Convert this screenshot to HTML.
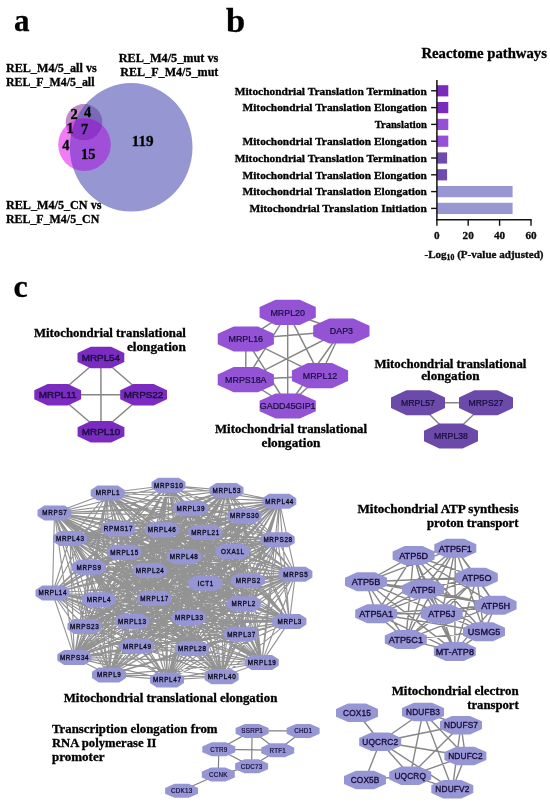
<!DOCTYPE html>
<html><head><meta charset="utf-8"><title>Figure</title>
<style>html,body{margin:0;padding:0;background:#fff}svg{display:block}</style>
</head><body>
<svg width="550" height="806" viewBox="0 0 550 806">
<rect width="550" height="806" fill="#ffffff"/>
<g font-family="'Liberation Serif', serif" font-weight="bold" stroke="#000" stroke-width="0.3" fill="#000">
<text x="14" y="31" font-size="31" text-anchor="start" >a</text>
<text x="226" y="31.5" font-size="33" text-anchor="start" textLength="19.2" lengthAdjust="spacingAndGlyphs" >b</text>
<text x="13.5" y="297.1" font-size="32" text-anchor="start" >c</text>
</g>
<defs>
<clipPath id="cb"><ellipse cx="131.2" cy="147.3" rx="61.3" ry="64.25"/></clipPath>
<clipPath id="cp"><circle cx="84.5" cy="144.6" r="26.3"/></clipPath>
</defs>
<circle cx="84.5" cy="144.6" r="26.3" fill="#F07CF6"/>
<ellipse cx="131.2" cy="147.3" rx="61.3" ry="64.25" fill="#9696D2"/>
<circle cx="84.5" cy="144.6" r="26.3" fill="#A050D8" clip-path="url(#cb)"/>
<circle cx="84" cy="122.3" r="18.3" fill="#C08AC8"/>
<circle cx="84" cy="122.3" r="18.3" fill="#7A68B8" clip-path="url(#cb)"/>
<circle cx="84" cy="122.3" r="18.3" fill="#CC50D8" clip-path="url(#cp)"/>
<g clip-path="url(#cb)"><circle cx="84" cy="122.3" r="18.3" fill="#8C35C8" clip-path="url(#cp)"/></g>
<g font-family="'Liberation Serif', serif" font-weight="bold" stroke="#000" stroke-width="0.3" fill="#000">
<text x="5.9" y="72" font-size="11.6" text-anchor="start" textLength="90.8" lengthAdjust="spacingAndGlyphs" >REL_M4/5_all vs</text>
<text x="5.9" y="85.8" font-size="11.6" text-anchor="start" textLength="88.6" lengthAdjust="spacingAndGlyphs" >REL_F_M4/5_all</text>
<text x="118.7" y="61.8" font-size="11.6" text-anchor="start" textLength="99.7" lengthAdjust="spacingAndGlyphs" >REL_M4/5_mut vs</text>
<text x="120.3" y="76.2" font-size="11.6" text-anchor="start" textLength="98.1" lengthAdjust="spacingAndGlyphs" >REL_F_M4/5_mut</text>
<text x="5.9" y="209.2" font-size="11.6" text-anchor="start" textLength="95.6" lengthAdjust="spacingAndGlyphs" >REL_M4/5_CN vs</text>
<text x="5.9" y="223.2" font-size="11.6" text-anchor="start" textLength="93.4" lengthAdjust="spacingAndGlyphs" >REL_F_M4/5_CN</text>
<text x="74.2" y="118.8" font-size="13.6" text-anchor="middle" textLength="7.2" lengthAdjust="spacingAndGlyphs" stroke="#111" stroke-width="0.35">2</text>
<text x="87.5" y="116.9" font-size="13.6" text-anchor="middle" textLength="7.2" lengthAdjust="spacingAndGlyphs" stroke="#111" stroke-width="0.35">4</text>
<text x="70.1" y="132.7" font-size="13.6" text-anchor="middle" textLength="7.2" lengthAdjust="spacingAndGlyphs" stroke="#111" stroke-width="0.35">1</text>
<text x="84.6" y="134" font-size="13.6" text-anchor="middle" textLength="7.2" lengthAdjust="spacingAndGlyphs" stroke="#111" stroke-width="0.35">7</text>
<text x="65.9" y="150.3" font-size="13.6" text-anchor="middle" textLength="7.2" lengthAdjust="spacingAndGlyphs" stroke="#111" stroke-width="0.35">4</text>
<text x="88.2" y="158.5" font-size="13.6" text-anchor="middle" textLength="14.4" lengthAdjust="spacingAndGlyphs" stroke="#111" stroke-width="0.35">15</text>
<text x="142.6" y="145.8" font-size="13.6" text-anchor="middle" textLength="21.8" lengthAdjust="spacingAndGlyphs" stroke="#111" stroke-width="0.35">119</text>
</g>
<g font-family="'Liberation Serif', serif" font-weight="bold" stroke="#000" stroke-width="0.3" fill="#000">
<text x="484.2" y="57.5" font-size="13.9" text-anchor="middle" textLength="125.5" lengthAdjust="spacingAndGlyphs" >Reactome pathways</text>
<text x="426.9" y="94.6" font-size="10.9" text-anchor="end" textLength="192.2" lengthAdjust="spacingAndGlyphs">Mitochondrial Translation Termination</text>
<text x="426.9" y="111.4" font-size="10.9" text-anchor="end" textLength="184.4" lengthAdjust="spacingAndGlyphs">Mitochondrial Translation Elongation</text>
<text x="426.9" y="128.2" font-size="10.9" text-anchor="end" textLength="52.2" lengthAdjust="spacingAndGlyphs">Translation</text>
<text x="426.9" y="145.0" font-size="10.9" text-anchor="end" textLength="184.4" lengthAdjust="spacingAndGlyphs">Mitochondrial Translation Elongation</text>
<text x="426.9" y="161.8" font-size="10.9" text-anchor="end" textLength="192.2" lengthAdjust="spacingAndGlyphs">Mitochondrial Translation Termination</text>
<text x="426.9" y="178.6" font-size="10.9" text-anchor="end" textLength="184.4" lengthAdjust="spacingAndGlyphs">Mitochondrial Translation Elongation</text>
<text x="426.9" y="195.4" font-size="10.9" text-anchor="end" textLength="184.4" lengthAdjust="spacingAndGlyphs">Mitochondrial Translation Elongation</text>
<text x="426.9" y="212.2" font-size="10.9" text-anchor="end" textLength="177.5" lengthAdjust="spacingAndGlyphs">Mitochondrial Translation Initiation</text>
</g>
<rect x="436.9" y="85.2" width="11.4" height="11.2" fill="#7A2BBE"/>
<line x1="431.1" y1="90.8" x2="436.9" y2="90.8" stroke="#111" stroke-width="1.4"/>
<rect x="436.9" y="102.0" width="11.4" height="11.2" fill="#7A2BBE"/>
<line x1="431.1" y1="107.6" x2="436.9" y2="107.6" stroke="#111" stroke-width="1.4"/>
<rect x="436.9" y="118.8" width="11.4" height="11.2" fill="#9650D7"/>
<line x1="431.1" y1="124.4" x2="436.9" y2="124.4" stroke="#111" stroke-width="1.4"/>
<rect x="436.9" y="135.6" width="11.4" height="11.2" fill="#9650D7"/>
<line x1="431.1" y1="141.2" x2="436.9" y2="141.2" stroke="#111" stroke-width="1.4"/>
<rect x="436.9" y="152.4" width="10.2" height="11.2" fill="#704BAF"/>
<line x1="431.1" y1="158.0" x2="436.9" y2="158.0" stroke="#111" stroke-width="1.4"/>
<rect x="436.9" y="169.2" width="10.2" height="11.2" fill="#704BAF"/>
<line x1="431.1" y1="174.8" x2="436.9" y2="174.8" stroke="#111" stroke-width="1.4"/>
<rect x="436.9" y="186.0" width="75.7" height="11.2" fill="#9897D3"/>
<line x1="431.1" y1="191.6" x2="436.9" y2="191.6" stroke="#111" stroke-width="1.4"/>
<rect x="436.9" y="202.8" width="75.7" height="11.2" fill="#9897D3"/>
<line x1="431.1" y1="208.4" x2="436.9" y2="208.4" stroke="#111" stroke-width="1.4"/>
<line x1="436.9" y1="80" x2="436.9" y2="220.4" stroke="#111" stroke-width="1.5"/>
<line x1="436.15" y1="219.8" x2="531.7" y2="219.7" stroke="#111" stroke-width="1.5"/>
<g font-family="'Liberation Serif', serif" font-weight="bold" stroke="#000" stroke-width="0.3" fill="#111" font-size="11.2" text-anchor="middle">
<line x1="436.9" y1="219.8" x2="436.9" y2="225.8" stroke="#111" stroke-width="1.4"/>
<text x="436.9" y="239.2">0</text>
<line x1="468.2" y1="219.8" x2="468.2" y2="225.8" stroke="#111" stroke-width="1.4"/>
<text x="468.2" y="239.2">20</text>
<line x1="499.6" y1="219.8" x2="499.6" y2="225.8" stroke="#111" stroke-width="1.4"/>
<text x="499.6" y="239.2">40</text>
<line x1="531.0" y1="219.8" x2="531.0" y2="225.8" stroke="#111" stroke-width="1.4"/>
<text x="531.0" y="239.2">60</text>
<text x="424.5" y="257.6" text-anchor="start" font-size="10.8" textLength="119" lengthAdjust="spacingAndGlyphs">-Log<tspan font-size="7.6" dy="2.2">10</tspan><tspan dy="-2.2"> (P-value adjusted)</tspan></text>
</g>
<g font-family="'Liberation Serif', serif" font-weight="bold" stroke="#000" stroke-width="0.3" fill="#000">
<text x="185.9" y="336.6" font-size="12.4" text-anchor="end" textLength="152" lengthAdjust="spacingAndGlyphs" >Mitochondrial translational</text>
<text x="185.9" y="351" font-size="12.4" text-anchor="end" textLength="59" lengthAdjust="spacingAndGlyphs" >elongation</text>
<text x="291" y="433" font-size="12.4" text-anchor="middle" textLength="152" lengthAdjust="spacingAndGlyphs" >Mitochondrial translational</text>
<text x="291" y="447.3" font-size="12.4" text-anchor="middle" textLength="59" lengthAdjust="spacingAndGlyphs" >elongation</text>
<text x="450.4" y="367.7" font-size="12.4" text-anchor="middle" textLength="152" lengthAdjust="spacingAndGlyphs" >Mitochondrial translational</text>
<text x="450.4" y="380.2" font-size="12.4" text-anchor="middle" textLength="58.5" lengthAdjust="spacingAndGlyphs" >elongation</text>
<text x="170.5" y="701.8" font-size="12.4" text-anchor="middle" textLength="213.7" lengthAdjust="spacingAndGlyphs" >Mitochondrial translational elongation</text>
<text x="518.5" y="513.3" font-size="12.4" text-anchor="end" textLength="161" lengthAdjust="spacingAndGlyphs" >Mitochondrial ATP synthesis</text>
<text x="518.5" y="527.1" font-size="12.4" text-anchor="end" textLength="91.5" lengthAdjust="spacingAndGlyphs" >proton transport</text>
<text x="518.7" y="694.6" font-size="12.4" text-anchor="end" textLength="127" lengthAdjust="spacingAndGlyphs" >Mitochondrial electron</text>
<text x="518.7" y="708.8" font-size="12.4" text-anchor="end" textLength="51.5" lengthAdjust="spacingAndGlyphs" >transport</text>
<text x="52" y="733" font-size="12.4" text-anchor="start" textLength="165.5" lengthAdjust="spacingAndGlyphs" >Transcription elongation from</text>
<text x="52" y="746.6" font-size="12.4" text-anchor="start" textLength="104.5" lengthAdjust="spacingAndGlyphs" xml:space="preserve">RNA polymerase II</text>
<text x="52" y="761.4" font-size="12.4" text-anchor="start" textLength="52.5" lengthAdjust="spacingAndGlyphs" >promoter</text>
</g>
<g stroke="#858585" stroke-width="1.45" fill="none">
<path d="M100.9 357.5L57.7 394.8M100.9 357.5L143.6 394.8M100.9 357.5L101.0 431.8M57.7 394.8L143.6 394.8M57.7 394.8L101.0 431.8M143.6 394.8L101.0 431.8"/>
</g>
<g>
<polygon points="90.8,346.8 111.0,346.8 124.3,353.0 124.3,362.0 111.0,368.2 90.8,368.2 77.5,362.0 77.5,353.0" fill="#7B2BC0"/>
<polygon points="47.6,384.1 67.8,384.1 81.1,390.3 81.1,399.3 67.8,405.5 47.6,405.5 34.3,399.3 34.3,390.3" fill="#7B2BC0"/>
<polygon points="133.5,384.1 153.7,384.1 167.0,390.3 167.0,399.3 153.7,405.5 133.5,405.5 120.2,399.3 120.2,390.3" fill="#7B2BC0"/>
<polygon points="90.9,421.1 111.1,421.1 124.4,427.3 124.4,436.3 111.1,442.5 90.9,442.5 77.6,436.3 77.6,427.3" fill="#7B2BC0"/>
</g>
<g font-family="'Liberation Sans', sans-serif" font-size="9.9" text-anchor="middle" fill="#160c3a" stroke="#160c3a" stroke-width="0.38" letter-spacing="0">
<text x="100.9" y="361.1">MRPL54</text>
<text x="57.7" y="398.4">MRPL11</text>
<text x="143.6" y="398.4">MRPS22</text>
<text x="101.0" y="435.4">MRPL10</text>
</g>
<g stroke="#858585" stroke-width="1.45" fill="none">
<path d="M287.7 312.3L341.4 331.0M287.7 312.3L245.8 339.0M287.7 312.3L320.0 375.7M287.7 312.3L245.8 379.7M287.7 312.3L287.7 406.0M341.4 331.0L245.8 339.0M341.4 331.0L320.0 375.7M341.4 331.0L245.8 379.7M341.4 331.0L287.7 406.0M245.8 339.0L320.0 375.7M245.8 339.0L245.8 379.7M245.8 339.0L287.7 406.0M320.0 375.7L245.8 379.7M320.0 375.7L287.7 406.0M245.8 379.7L287.7 406.0"/>
</g>
<g>
<polygon points="275.6,299.7 299.8,299.7 315.8,307.0 315.8,317.6 299.8,324.9 275.6,324.9 259.6,317.6 259.6,307.0" fill="#9353D4"/>
<polygon points="329.3,318.4 353.5,318.4 369.5,325.7 369.5,336.3 353.5,343.6 329.3,343.6 313.2,336.3 313.2,325.7" fill="#9353D4"/>
<polygon points="233.7,326.4 257.9,326.4 273.9,333.7 273.9,344.3 257.9,351.6 233.7,351.6 217.7,344.3 217.7,333.7" fill="#9353D4"/>
<polygon points="307.9,363.1 332.1,363.1 348.1,370.4 348.1,381.0 332.1,388.3 307.9,388.3 291.9,381.0 291.9,370.4" fill="#9353D4"/>
<polygon points="233.7,367.1 257.9,367.1 273.9,374.4 273.9,385.0 257.9,392.3 233.7,392.3 217.7,385.0 217.7,374.4" fill="#9353D4"/>
<polygon points="275.6,393.4 299.8,393.4 315.8,400.7 315.8,411.3 299.8,418.6 275.6,418.6 259.6,411.3 259.6,400.7" fill="#9353D4"/>
</g>
<g font-family="'Liberation Sans', sans-serif" font-size="8.9" text-anchor="middle" fill="#160c3a" stroke="#160c3a" stroke-width="0.20" letter-spacing="0">
<text x="287.7" y="315.5">MRPL20</text>
<text x="341.4" y="334.2">DAP3</text>
<text x="245.8" y="342.2">MRPL16</text>
<text x="320.0" y="378.9">MRPL12</text>
<text x="245.8" y="382.9">MRPS18A</text>
<text x="287.7" y="409.2">GADD45GIP1</text>
</g>
<g stroke="#858585" stroke-width="1.45" fill="none">
<path d="M418.0 402.8L486.0 402.8M418.0 402.8L451.0 436.0M486.0 402.8L451.0 436.0"/>
</g>
<g>
<polygon points="406.4,390.3 429.6,390.3 445.0,397.6 445.0,408.1 429.6,415.3 406.4,415.3 391.0,408.1 391.0,397.6" fill="#6B4AA9"/>
<polygon points="474.4,390.3 497.6,390.3 513.0,397.6 513.0,408.1 497.6,415.3 474.4,415.3 459.0,408.1 459.0,397.6" fill="#6B4AA9"/>
<polygon points="439.4,423.5 462.6,423.5 478.0,430.8 478.0,441.2 462.6,448.5 439.4,448.5 424.0,441.2 424.0,430.8" fill="#6B4AA9"/>
</g>
<g font-family="'Liberation Sans', sans-serif" font-size="8.7" text-anchor="middle" fill="#160c3a" stroke="#160c3a" stroke-width="0.20" letter-spacing="0">
<text x="418.0" y="405.9">MRPL57</text>
<text x="486.0" y="405.9">MRPS27</text>
<text x="451.0" y="439.1">MRPL38</text>
</g>
<g stroke="#939393" stroke-width="1.12" fill="none">
<path d="M107.7 493.0L168.5 485.2M107.7 493.0L226.5 490.4M107.7 493.0L279.3 501.3M107.7 493.0L54.5 513.0M107.7 493.0L190.6 508.2M107.7 493.0L244.4 516.0M107.7 493.0L118.2 528.8M107.7 493.0L161.9 529.7M107.7 493.0L205.2 532.6M107.7 493.0L277.7 539.8M107.7 493.0L70.0 538.6M107.7 493.0L124.3 552.3M107.7 493.0L183.9 556.7M107.7 493.0L232.5 551.4M107.7 493.0L88.8 567.2M107.7 493.0L149.8 570.5M107.7 493.0L295.4 574.3M107.7 493.0L205.3 583.2M107.7 493.0L248.0 580.5M107.7 493.0L52.5 593.0M107.7 493.0L98.7 599.7M107.7 493.0L154.3 598.2M107.7 493.0L243.5 603.8M107.7 493.0L132.0 621.3M107.7 493.0L189.1 617.8M107.7 493.0L289.4 621.4M107.7 493.0L84.5 626.5M107.7 493.0L241.2 634.2M107.7 493.0L137.1 646.3M107.7 493.0L192.0 648.6M107.7 493.0L74.3 657.4M107.7 493.0L261.8 662.4M107.7 493.0L109.0 674.9M107.7 493.0L167.0 679.9M107.7 493.0L221.7 676.8M168.5 485.2L226.5 490.4M168.5 485.2L279.3 501.3M168.5 485.2L54.5 513.0M168.5 485.2L190.6 508.2M168.5 485.2L244.4 516.0M168.5 485.2L118.2 528.8M168.5 485.2L161.9 529.7M168.5 485.2L205.2 532.6M168.5 485.2L277.7 539.8M168.5 485.2L70.0 538.6M168.5 485.2L124.3 552.3M168.5 485.2L183.9 556.7M168.5 485.2L232.5 551.4M168.5 485.2L88.8 567.2M168.5 485.2L149.8 570.5M168.5 485.2L295.4 574.3M168.5 485.2L205.3 583.2M168.5 485.2L248.0 580.5M168.5 485.2L52.5 593.0M168.5 485.2L98.7 599.7M168.5 485.2L154.3 598.2M168.5 485.2L243.5 603.8M168.5 485.2L132.0 621.3M168.5 485.2L189.1 617.8M168.5 485.2L289.4 621.4M168.5 485.2L84.5 626.5M168.5 485.2L241.2 634.2M168.5 485.2L137.1 646.3M168.5 485.2L192.0 648.6M168.5 485.2L74.3 657.4M168.5 485.2L261.8 662.4M168.5 485.2L109.0 674.9M168.5 485.2L167.0 679.9M168.5 485.2L221.7 676.8M226.5 490.4L279.3 501.3M226.5 490.4L54.5 513.0M226.5 490.4L190.6 508.2M226.5 490.4L244.4 516.0M226.5 490.4L118.2 528.8M226.5 490.4L161.9 529.7M226.5 490.4L205.2 532.6M226.5 490.4L277.7 539.8M226.5 490.4L70.0 538.6M226.5 490.4L124.3 552.3M226.5 490.4L183.9 556.7M226.5 490.4L232.5 551.4M226.5 490.4L88.8 567.2M226.5 490.4L149.8 570.5M226.5 490.4L295.4 574.3M226.5 490.4L205.3 583.2M226.5 490.4L248.0 580.5M226.5 490.4L52.5 593.0M226.5 490.4L98.7 599.7M226.5 490.4L154.3 598.2M226.5 490.4L243.5 603.8M226.5 490.4L132.0 621.3M226.5 490.4L189.1 617.8M226.5 490.4L289.4 621.4M226.5 490.4L84.5 626.5M226.5 490.4L241.2 634.2M226.5 490.4L137.1 646.3M226.5 490.4L192.0 648.6M226.5 490.4L74.3 657.4M226.5 490.4L261.8 662.4M226.5 490.4L109.0 674.9M226.5 490.4L167.0 679.9M226.5 490.4L221.7 676.8M279.3 501.3L54.5 513.0M279.3 501.3L190.6 508.2M279.3 501.3L244.4 516.0M279.3 501.3L118.2 528.8M279.3 501.3L161.9 529.7M279.3 501.3L205.2 532.6M279.3 501.3L277.7 539.8M279.3 501.3L70.0 538.6M279.3 501.3L124.3 552.3M279.3 501.3L183.9 556.7M279.3 501.3L232.5 551.4M279.3 501.3L88.8 567.2M279.3 501.3L149.8 570.5M279.3 501.3L295.4 574.3M279.3 501.3L205.3 583.2M279.3 501.3L248.0 580.5M279.3 501.3L52.5 593.0M279.3 501.3L98.7 599.7M279.3 501.3L154.3 598.2M279.3 501.3L243.5 603.8M279.3 501.3L132.0 621.3M279.3 501.3L189.1 617.8M279.3 501.3L289.4 621.4M279.3 501.3L84.5 626.5M279.3 501.3L241.2 634.2M279.3 501.3L137.1 646.3M279.3 501.3L192.0 648.6M279.3 501.3L74.3 657.4M279.3 501.3L261.8 662.4M279.3 501.3L109.0 674.9M279.3 501.3L167.0 679.9M279.3 501.3L221.7 676.8M54.5 513.0L190.6 508.2M54.5 513.0L244.4 516.0M54.5 513.0L118.2 528.8M54.5 513.0L161.9 529.7M54.5 513.0L205.2 532.6M54.5 513.0L277.7 539.8M54.5 513.0L70.0 538.6M54.5 513.0L124.3 552.3M54.5 513.0L183.9 556.7M54.5 513.0L232.5 551.4M54.5 513.0L88.8 567.2M54.5 513.0L149.8 570.5M54.5 513.0L295.4 574.3M54.5 513.0L205.3 583.2M54.5 513.0L248.0 580.5M54.5 513.0L52.5 593.0M54.5 513.0L98.7 599.7M54.5 513.0L154.3 598.2M54.5 513.0L243.5 603.8M54.5 513.0L132.0 621.3M54.5 513.0L189.1 617.8M54.5 513.0L289.4 621.4M54.5 513.0L84.5 626.5M54.5 513.0L241.2 634.2M54.5 513.0L137.1 646.3M54.5 513.0L192.0 648.6M54.5 513.0L74.3 657.4M54.5 513.0L261.8 662.4M54.5 513.0L109.0 674.9M54.5 513.0L167.0 679.9M54.5 513.0L221.7 676.8M190.6 508.2L244.4 516.0M190.6 508.2L118.2 528.8M190.6 508.2L161.9 529.7M190.6 508.2L205.2 532.6M190.6 508.2L277.7 539.8M190.6 508.2L70.0 538.6M190.6 508.2L124.3 552.3M190.6 508.2L183.9 556.7M190.6 508.2L232.5 551.4M190.6 508.2L88.8 567.2M190.6 508.2L149.8 570.5M190.6 508.2L295.4 574.3M190.6 508.2L205.3 583.2M190.6 508.2L248.0 580.5M190.6 508.2L52.5 593.0M190.6 508.2L98.7 599.7M190.6 508.2L154.3 598.2M190.6 508.2L243.5 603.8M190.6 508.2L132.0 621.3M190.6 508.2L189.1 617.8M190.6 508.2L289.4 621.4M190.6 508.2L84.5 626.5M190.6 508.2L241.2 634.2M190.6 508.2L137.1 646.3M190.6 508.2L192.0 648.6M190.6 508.2L74.3 657.4M190.6 508.2L261.8 662.4M190.6 508.2L109.0 674.9M190.6 508.2L167.0 679.9M190.6 508.2L221.7 676.8M244.4 516.0L118.2 528.8M244.4 516.0L161.9 529.7M244.4 516.0L205.2 532.6M244.4 516.0L277.7 539.8M244.4 516.0L70.0 538.6M244.4 516.0L124.3 552.3M244.4 516.0L183.9 556.7M244.4 516.0L232.5 551.4M244.4 516.0L88.8 567.2M244.4 516.0L149.8 570.5M244.4 516.0L295.4 574.3M244.4 516.0L205.3 583.2M244.4 516.0L248.0 580.5M244.4 516.0L52.5 593.0M244.4 516.0L98.7 599.7M244.4 516.0L154.3 598.2M244.4 516.0L243.5 603.8M244.4 516.0L132.0 621.3M244.4 516.0L189.1 617.8M244.4 516.0L289.4 621.4M244.4 516.0L84.5 626.5M244.4 516.0L241.2 634.2M244.4 516.0L137.1 646.3M244.4 516.0L192.0 648.6M244.4 516.0L74.3 657.4M244.4 516.0L261.8 662.4M244.4 516.0L109.0 674.9M244.4 516.0L167.0 679.9M244.4 516.0L221.7 676.8M118.2 528.8L161.9 529.7M118.2 528.8L205.2 532.6M118.2 528.8L277.7 539.8M118.2 528.8L70.0 538.6M118.2 528.8L124.3 552.3M118.2 528.8L183.9 556.7M118.2 528.8L232.5 551.4M118.2 528.8L88.8 567.2M118.2 528.8L149.8 570.5M118.2 528.8L295.4 574.3M118.2 528.8L205.3 583.2M118.2 528.8L248.0 580.5M118.2 528.8L52.5 593.0M118.2 528.8L98.7 599.7M118.2 528.8L154.3 598.2M118.2 528.8L243.5 603.8M118.2 528.8L132.0 621.3M118.2 528.8L189.1 617.8M118.2 528.8L289.4 621.4M118.2 528.8L84.5 626.5M118.2 528.8L241.2 634.2M118.2 528.8L137.1 646.3M118.2 528.8L192.0 648.6M118.2 528.8L74.3 657.4M118.2 528.8L261.8 662.4M118.2 528.8L109.0 674.9M118.2 528.8L167.0 679.9M118.2 528.8L221.7 676.8M161.9 529.7L205.2 532.6M161.9 529.7L277.7 539.8M161.9 529.7L70.0 538.6M161.9 529.7L124.3 552.3M161.9 529.7L183.9 556.7M161.9 529.7L232.5 551.4M161.9 529.7L88.8 567.2M161.9 529.7L149.8 570.5M161.9 529.7L295.4 574.3M161.9 529.7L205.3 583.2M161.9 529.7L248.0 580.5M161.9 529.7L52.5 593.0M161.9 529.7L98.7 599.7M161.9 529.7L154.3 598.2M161.9 529.7L243.5 603.8M161.9 529.7L132.0 621.3M161.9 529.7L189.1 617.8M161.9 529.7L289.4 621.4M161.9 529.7L84.5 626.5M161.9 529.7L241.2 634.2M161.9 529.7L137.1 646.3M161.9 529.7L192.0 648.6M161.9 529.7L74.3 657.4M161.9 529.7L261.8 662.4M161.9 529.7L109.0 674.9M161.9 529.7L167.0 679.9M161.9 529.7L221.7 676.8M205.2 532.6L277.7 539.8M205.2 532.6L70.0 538.6M205.2 532.6L124.3 552.3M205.2 532.6L183.9 556.7M205.2 532.6L232.5 551.4M205.2 532.6L88.8 567.2M205.2 532.6L149.8 570.5M205.2 532.6L295.4 574.3M205.2 532.6L205.3 583.2M205.2 532.6L248.0 580.5M205.2 532.6L52.5 593.0M205.2 532.6L98.7 599.7M205.2 532.6L154.3 598.2M205.2 532.6L243.5 603.8M205.2 532.6L132.0 621.3M205.2 532.6L189.1 617.8M205.2 532.6L289.4 621.4M205.2 532.6L84.5 626.5M205.2 532.6L241.2 634.2M205.2 532.6L137.1 646.3M205.2 532.6L192.0 648.6M205.2 532.6L74.3 657.4M205.2 532.6L261.8 662.4M205.2 532.6L109.0 674.9M205.2 532.6L167.0 679.9M205.2 532.6L221.7 676.8M277.7 539.8L70.0 538.6M277.7 539.8L124.3 552.3M277.7 539.8L183.9 556.7M277.7 539.8L232.5 551.4M277.7 539.8L88.8 567.2M277.7 539.8L149.8 570.5M277.7 539.8L295.4 574.3M277.7 539.8L205.3 583.2M277.7 539.8L248.0 580.5M277.7 539.8L52.5 593.0M277.7 539.8L98.7 599.7M277.7 539.8L154.3 598.2M277.7 539.8L243.5 603.8M277.7 539.8L132.0 621.3M277.7 539.8L189.1 617.8M277.7 539.8L289.4 621.4M277.7 539.8L84.5 626.5M277.7 539.8L241.2 634.2M277.7 539.8L137.1 646.3M277.7 539.8L192.0 648.6M277.7 539.8L74.3 657.4M277.7 539.8L261.8 662.4M277.7 539.8L109.0 674.9M277.7 539.8L167.0 679.9M277.7 539.8L221.7 676.8M70.0 538.6L124.3 552.3M70.0 538.6L183.9 556.7M70.0 538.6L232.5 551.4M70.0 538.6L88.8 567.2M70.0 538.6L149.8 570.5M70.0 538.6L295.4 574.3M70.0 538.6L205.3 583.2M70.0 538.6L248.0 580.5M70.0 538.6L52.5 593.0M70.0 538.6L98.7 599.7M70.0 538.6L154.3 598.2M70.0 538.6L243.5 603.8M70.0 538.6L132.0 621.3M70.0 538.6L189.1 617.8M70.0 538.6L289.4 621.4M70.0 538.6L84.5 626.5M70.0 538.6L241.2 634.2M70.0 538.6L137.1 646.3M70.0 538.6L192.0 648.6M70.0 538.6L74.3 657.4M70.0 538.6L261.8 662.4M70.0 538.6L109.0 674.9M70.0 538.6L167.0 679.9M70.0 538.6L221.7 676.8M124.3 552.3L183.9 556.7M124.3 552.3L232.5 551.4M124.3 552.3L88.8 567.2M124.3 552.3L149.8 570.5M124.3 552.3L295.4 574.3M124.3 552.3L205.3 583.2M124.3 552.3L248.0 580.5M124.3 552.3L52.5 593.0M124.3 552.3L98.7 599.7M124.3 552.3L154.3 598.2M124.3 552.3L243.5 603.8M124.3 552.3L132.0 621.3M124.3 552.3L189.1 617.8M124.3 552.3L289.4 621.4M124.3 552.3L84.5 626.5M124.3 552.3L241.2 634.2M124.3 552.3L137.1 646.3M124.3 552.3L192.0 648.6M124.3 552.3L74.3 657.4M124.3 552.3L261.8 662.4M124.3 552.3L109.0 674.9M124.3 552.3L167.0 679.9M124.3 552.3L221.7 676.8M183.9 556.7L232.5 551.4M183.9 556.7L88.8 567.2M183.9 556.7L149.8 570.5M183.9 556.7L295.4 574.3M183.9 556.7L205.3 583.2M183.9 556.7L248.0 580.5M183.9 556.7L52.5 593.0M183.9 556.7L98.7 599.7M183.9 556.7L154.3 598.2M183.9 556.7L243.5 603.8M183.9 556.7L132.0 621.3M183.9 556.7L189.1 617.8M183.9 556.7L289.4 621.4M183.9 556.7L84.5 626.5M183.9 556.7L241.2 634.2M183.9 556.7L137.1 646.3M183.9 556.7L192.0 648.6M183.9 556.7L74.3 657.4M183.9 556.7L261.8 662.4M183.9 556.7L109.0 674.9M183.9 556.7L167.0 679.9M183.9 556.7L221.7 676.8M232.5 551.4L88.8 567.2M232.5 551.4L149.8 570.5M232.5 551.4L295.4 574.3M232.5 551.4L205.3 583.2M232.5 551.4L248.0 580.5M232.5 551.4L52.5 593.0M232.5 551.4L98.7 599.7M232.5 551.4L154.3 598.2M232.5 551.4L243.5 603.8M232.5 551.4L132.0 621.3M232.5 551.4L189.1 617.8M232.5 551.4L289.4 621.4M232.5 551.4L84.5 626.5M232.5 551.4L241.2 634.2M232.5 551.4L137.1 646.3M232.5 551.4L192.0 648.6M232.5 551.4L74.3 657.4M232.5 551.4L261.8 662.4M232.5 551.4L109.0 674.9M232.5 551.4L167.0 679.9M232.5 551.4L221.7 676.8M88.8 567.2L149.8 570.5M88.8 567.2L295.4 574.3M88.8 567.2L205.3 583.2M88.8 567.2L248.0 580.5M88.8 567.2L52.5 593.0M88.8 567.2L98.7 599.7M88.8 567.2L154.3 598.2M88.8 567.2L243.5 603.8M88.8 567.2L132.0 621.3M88.8 567.2L189.1 617.8M88.8 567.2L289.4 621.4M88.8 567.2L84.5 626.5M88.8 567.2L241.2 634.2M88.8 567.2L137.1 646.3M88.8 567.2L192.0 648.6M88.8 567.2L74.3 657.4M88.8 567.2L261.8 662.4M88.8 567.2L109.0 674.9M88.8 567.2L167.0 679.9M88.8 567.2L221.7 676.8M149.8 570.5L295.4 574.3M149.8 570.5L205.3 583.2M149.8 570.5L248.0 580.5M149.8 570.5L52.5 593.0M149.8 570.5L98.7 599.7M149.8 570.5L154.3 598.2M149.8 570.5L243.5 603.8M149.8 570.5L132.0 621.3M149.8 570.5L189.1 617.8M149.8 570.5L289.4 621.4M149.8 570.5L84.5 626.5M149.8 570.5L241.2 634.2M149.8 570.5L137.1 646.3M149.8 570.5L192.0 648.6M149.8 570.5L74.3 657.4M149.8 570.5L261.8 662.4M149.8 570.5L109.0 674.9M149.8 570.5L167.0 679.9M149.8 570.5L221.7 676.8M295.4 574.3L205.3 583.2M295.4 574.3L248.0 580.5M295.4 574.3L52.5 593.0M295.4 574.3L98.7 599.7M295.4 574.3L154.3 598.2M295.4 574.3L243.5 603.8M295.4 574.3L132.0 621.3M295.4 574.3L189.1 617.8M295.4 574.3L289.4 621.4M295.4 574.3L84.5 626.5M295.4 574.3L241.2 634.2M295.4 574.3L137.1 646.3M295.4 574.3L192.0 648.6M295.4 574.3L74.3 657.4M295.4 574.3L261.8 662.4M295.4 574.3L109.0 674.9M295.4 574.3L167.0 679.9M295.4 574.3L221.7 676.8M205.3 583.2L248.0 580.5M205.3 583.2L52.5 593.0M205.3 583.2L98.7 599.7M205.3 583.2L154.3 598.2M205.3 583.2L243.5 603.8M205.3 583.2L132.0 621.3M205.3 583.2L189.1 617.8M205.3 583.2L289.4 621.4M205.3 583.2L84.5 626.5M205.3 583.2L241.2 634.2M205.3 583.2L137.1 646.3M205.3 583.2L192.0 648.6M205.3 583.2L74.3 657.4M205.3 583.2L261.8 662.4M205.3 583.2L109.0 674.9M205.3 583.2L167.0 679.9M205.3 583.2L221.7 676.8M248.0 580.5L52.5 593.0M248.0 580.5L98.7 599.7M248.0 580.5L154.3 598.2M248.0 580.5L243.5 603.8M248.0 580.5L132.0 621.3M248.0 580.5L189.1 617.8M248.0 580.5L289.4 621.4M248.0 580.5L84.5 626.5M248.0 580.5L241.2 634.2M248.0 580.5L137.1 646.3M248.0 580.5L192.0 648.6M248.0 580.5L74.3 657.4M248.0 580.5L261.8 662.4M248.0 580.5L109.0 674.9M248.0 580.5L167.0 679.9M248.0 580.5L221.7 676.8M52.5 593.0L98.7 599.7M52.5 593.0L154.3 598.2M52.5 593.0L243.5 603.8M52.5 593.0L132.0 621.3M52.5 593.0L189.1 617.8M52.5 593.0L289.4 621.4M52.5 593.0L84.5 626.5M52.5 593.0L241.2 634.2M52.5 593.0L137.1 646.3M52.5 593.0L192.0 648.6M52.5 593.0L74.3 657.4M52.5 593.0L261.8 662.4M52.5 593.0L109.0 674.9M52.5 593.0L167.0 679.9M52.5 593.0L221.7 676.8M98.7 599.7L154.3 598.2M98.7 599.7L243.5 603.8M98.7 599.7L132.0 621.3M98.7 599.7L189.1 617.8M98.7 599.7L289.4 621.4M98.7 599.7L84.5 626.5M98.7 599.7L241.2 634.2M98.7 599.7L137.1 646.3M98.7 599.7L192.0 648.6M98.7 599.7L74.3 657.4M98.7 599.7L261.8 662.4M98.7 599.7L109.0 674.9M98.7 599.7L167.0 679.9M98.7 599.7L221.7 676.8M154.3 598.2L243.5 603.8M154.3 598.2L132.0 621.3M154.3 598.2L189.1 617.8M154.3 598.2L289.4 621.4M154.3 598.2L84.5 626.5M154.3 598.2L241.2 634.2M154.3 598.2L137.1 646.3M154.3 598.2L192.0 648.6M154.3 598.2L74.3 657.4M154.3 598.2L261.8 662.4M154.3 598.2L109.0 674.9M154.3 598.2L167.0 679.9M154.3 598.2L221.7 676.8M243.5 603.8L132.0 621.3M243.5 603.8L189.1 617.8M243.5 603.8L289.4 621.4M243.5 603.8L84.5 626.5M243.5 603.8L241.2 634.2M243.5 603.8L137.1 646.3M243.5 603.8L192.0 648.6M243.5 603.8L74.3 657.4M243.5 603.8L261.8 662.4M243.5 603.8L109.0 674.9M243.5 603.8L167.0 679.9M243.5 603.8L221.7 676.8M132.0 621.3L189.1 617.8M132.0 621.3L289.4 621.4M132.0 621.3L84.5 626.5M132.0 621.3L241.2 634.2M132.0 621.3L137.1 646.3M132.0 621.3L192.0 648.6M132.0 621.3L74.3 657.4M132.0 621.3L261.8 662.4M132.0 621.3L109.0 674.9M132.0 621.3L167.0 679.9M132.0 621.3L221.7 676.8M189.1 617.8L289.4 621.4M189.1 617.8L84.5 626.5M189.1 617.8L241.2 634.2M189.1 617.8L137.1 646.3M189.1 617.8L192.0 648.6M189.1 617.8L74.3 657.4M189.1 617.8L261.8 662.4M189.1 617.8L109.0 674.9M189.1 617.8L167.0 679.9M189.1 617.8L221.7 676.8M289.4 621.4L84.5 626.5M289.4 621.4L241.2 634.2M289.4 621.4L137.1 646.3M289.4 621.4L192.0 648.6M289.4 621.4L74.3 657.4M289.4 621.4L261.8 662.4M289.4 621.4L109.0 674.9M289.4 621.4L167.0 679.9M289.4 621.4L221.7 676.8M84.5 626.5L241.2 634.2M84.5 626.5L137.1 646.3M84.5 626.5L192.0 648.6M84.5 626.5L74.3 657.4M84.5 626.5L261.8 662.4M84.5 626.5L109.0 674.9M84.5 626.5L167.0 679.9M84.5 626.5L221.7 676.8M241.2 634.2L137.1 646.3M241.2 634.2L192.0 648.6M241.2 634.2L74.3 657.4M241.2 634.2L261.8 662.4M241.2 634.2L109.0 674.9M241.2 634.2L167.0 679.9M241.2 634.2L221.7 676.8M137.1 646.3L192.0 648.6M137.1 646.3L74.3 657.4M137.1 646.3L261.8 662.4M137.1 646.3L109.0 674.9M137.1 646.3L167.0 679.9M137.1 646.3L221.7 676.8M192.0 648.6L74.3 657.4M192.0 648.6L261.8 662.4M192.0 648.6L109.0 674.9M192.0 648.6L167.0 679.9M192.0 648.6L221.7 676.8M74.3 657.4L261.8 662.4M74.3 657.4L109.0 674.9M74.3 657.4L167.0 679.9M74.3 657.4L221.7 676.8M261.8 662.4L109.0 674.9M261.8 662.4L167.0 679.9M261.8 662.4L221.7 676.8M109.0 674.9L167.0 679.9M109.0 674.9L221.7 676.8M167.0 679.9L221.7 676.8"/>
</g>
<g>
<polygon points="97.5,485.5 117.9,485.5 124.7,489.9 124.7,496.1 117.9,500.5 97.5,500.5 90.7,496.1 90.7,489.9" fill="#9796D4"/>
<polygon points="158.3,477.7 178.7,477.7 185.5,482.1 185.5,488.3 178.7,492.7 158.3,492.7 151.5,488.3 151.5,482.1" fill="#9796D4"/>
<polygon points="216.3,482.9 236.7,482.9 243.5,487.2 243.5,493.5 236.7,497.9 216.3,497.9 209.5,493.5 209.5,487.2" fill="#9796D4"/>
<polygon points="269.1,493.8 289.5,493.8 296.3,498.2 296.3,504.4 289.5,508.8 269.1,508.8 262.3,504.4 262.3,498.2" fill="#9796D4"/>
<polygon points="44.3,505.5 64.7,505.5 71.5,509.9 71.5,516.1 64.7,520.5 44.3,520.5 37.5,516.1 37.5,509.9" fill="#9796D4"/>
<polygon points="180.4,500.7 200.8,500.7 207.6,505.1 207.6,511.4 200.8,515.7 180.4,515.7 173.6,511.4 173.6,505.1" fill="#9796D4"/>
<polygon points="234.2,508.5 254.6,508.5 261.4,512.9 261.4,519.1 254.6,523.5 234.2,523.5 227.4,519.1 227.4,512.9" fill="#9796D4"/>
<polygon points="108.0,521.3 128.4,521.3 135.2,525.6 135.2,531.9 128.4,536.3 108.0,536.3 101.2,531.9 101.2,525.6" fill="#9796D4"/>
<polygon points="151.7,522.2 172.1,522.2 178.9,526.6 178.9,532.9 172.1,537.2 151.7,537.2 144.9,532.9 144.9,526.6" fill="#9796D4"/>
<polygon points="195.0,525.1 215.4,525.1 222.2,529.5 222.2,535.8 215.4,540.1 195.0,540.1 188.2,535.8 188.2,529.5" fill="#9796D4"/>
<polygon points="267.5,532.3 287.9,532.3 294.7,536.6 294.7,542.9 287.9,547.3 267.5,547.3 260.7,542.9 260.7,536.6" fill="#9796D4"/>
<polygon points="59.8,531.1 80.2,531.1 87.0,535.5 87.0,541.8 80.2,546.1 59.8,546.1 53.0,541.8 53.0,535.5" fill="#9796D4"/>
<polygon points="114.1,544.8 134.5,544.8 141.3,549.1 141.3,555.4 134.5,559.8 114.1,559.8 107.3,555.4 107.3,549.1" fill="#9796D4"/>
<polygon points="173.7,549.2 194.1,549.2 200.9,553.6 200.9,559.9 194.1,564.2 173.7,564.2 166.9,559.9 166.9,553.6" fill="#9796D4"/>
<polygon points="222.3,543.9 242.7,543.9 249.5,548.2 249.5,554.5 242.7,558.9 222.3,558.9 215.5,554.5 215.5,548.2" fill="#9796D4"/>
<polygon points="78.6,559.7 99.0,559.7 105.8,564.1 105.8,570.4 99.0,574.7 78.6,574.7 71.8,570.4 71.8,564.1" fill="#9796D4"/>
<polygon points="139.6,563.0 160.0,563.0 166.8,567.4 166.8,573.6 160.0,578.0 139.6,578.0 132.8,573.6 132.8,567.4" fill="#9796D4"/>
<polygon points="285.2,566.8 305.6,566.8 312.4,571.1 312.4,577.4 305.6,581.8 285.2,581.8 278.4,577.4 278.4,571.1" fill="#9796D4"/>
<polygon points="195.1,575.7 215.5,575.7 222.3,580.1 222.3,586.4 215.5,590.7 195.1,590.7 188.3,586.4 188.3,580.1" fill="#9796D4"/>
<polygon points="237.8,573.0 258.2,573.0 265.0,577.4 265.0,583.6 258.2,588.0 237.8,588.0 231.0,583.6 231.0,577.4" fill="#9796D4"/>
<polygon points="42.3,585.5 62.7,585.5 69.5,589.9 69.5,596.1 62.7,600.5 42.3,600.5 35.5,596.1 35.5,589.9" fill="#9796D4"/>
<polygon points="88.5,592.2 108.9,592.2 115.7,596.6 115.7,602.9 108.9,607.2 88.5,607.2 81.7,602.9 81.7,596.6" fill="#9796D4"/>
<polygon points="144.1,590.7 164.5,590.7 171.3,595.1 171.3,601.4 164.5,605.7 144.1,605.7 137.3,601.4 137.3,595.1" fill="#9796D4"/>
<polygon points="233.3,596.3 253.7,596.3 260.5,600.6 260.5,606.9 253.7,611.3 233.3,611.3 226.5,606.9 226.5,600.6" fill="#9796D4"/>
<polygon points="121.8,613.8 142.2,613.8 149.0,618.1 149.0,624.4 142.2,628.8 121.8,628.8 115.0,624.4 115.0,618.1" fill="#9796D4"/>
<polygon points="178.9,610.3 199.3,610.3 206.1,614.6 206.1,620.9 199.3,625.3 178.9,625.3 172.1,620.9 172.1,614.6" fill="#9796D4"/>
<polygon points="279.2,613.9 299.6,613.9 306.4,618.2 306.4,624.5 299.6,628.9 279.2,628.9 272.4,624.5 272.4,618.2" fill="#9796D4"/>
<polygon points="74.3,619.0 94.7,619.0 101.5,623.4 101.5,629.6 94.7,634.0 74.3,634.0 67.5,629.6 67.5,623.4" fill="#9796D4"/>
<polygon points="231.0,626.7 251.4,626.7 258.2,631.1 258.2,637.4 251.4,641.7 231.0,641.7 224.2,637.4 224.2,631.1" fill="#9796D4"/>
<polygon points="126.9,638.8 147.3,638.8 154.1,643.1 154.1,649.4 147.3,653.8 126.9,653.8 120.1,649.4 120.1,643.1" fill="#9796D4"/>
<polygon points="181.8,641.1 202.2,641.1 209.0,645.5 209.0,651.8 202.2,656.1 181.8,656.1 175.0,651.8 175.0,645.5" fill="#9796D4"/>
<polygon points="64.1,649.9 84.5,649.9 91.3,654.2 91.3,660.5 84.5,664.9 64.1,664.9 57.3,660.5 57.3,654.2" fill="#9796D4"/>
<polygon points="251.6,654.9 272.0,654.9 278.8,659.2 278.8,665.5 272.0,669.9 251.6,669.9 244.8,665.5 244.8,659.2" fill="#9796D4"/>
<polygon points="98.8,667.4 119.2,667.4 126.0,671.8 126.0,678.0 119.2,682.4 98.8,682.4 92.0,678.0 92.0,671.8" fill="#9796D4"/>
<polygon points="156.8,672.4 177.2,672.4 184.0,676.8 184.0,683.0 177.2,687.4 156.8,687.4 150.0,683.0 150.0,676.8" fill="#9796D4"/>
<polygon points="211.5,669.3 231.9,669.3 238.7,673.6 238.7,679.9 231.9,684.3 211.5,684.3 204.7,679.9 204.7,673.6" fill="#9796D4"/>
</g>
<g font-family="'Liberation Sans', sans-serif" font-size="6.3" text-anchor="middle" fill="#08081a" stroke="#08081a" stroke-width="0.30" letter-spacing="0.7">
<text x="108.0" y="495.3">MRPL1</text>
<text x="168.8" y="487.5">MRPS10</text>
<text x="226.8" y="492.7">MRPL53</text>
<text x="279.7" y="503.6">MRPL44</text>
<text x="54.9" y="515.3">MRPS7</text>
<text x="190.9" y="510.5">MRPL39</text>
<text x="244.8" y="518.3">MRPS30</text>
<text x="118.5" y="531.1">RPMS17</text>
<text x="162.2" y="532.0">MRPL46</text>
<text x="205.5" y="534.9">MRPL21</text>
<text x="278.1" y="542.1">MRPS28</text>
<text x="70.3" y="540.9">MRPL43</text>
<text x="124.6" y="554.6">MRPL15</text>
<text x="184.2" y="559.0">MRPL48</text>
<text x="232.8" y="553.7">OXA1L</text>
<text x="89.1" y="569.5">MRPS9</text>
<text x="150.2" y="572.8">MRPL24</text>
<text x="295.8" y="576.6">MRPS5</text>
<text x="205.7" y="585.5">ICT1</text>
<text x="248.3" y="582.8">MRPS2</text>
<text x="52.9" y="595.3">MRPL14</text>
<text x="99.0" y="602.0">MRPL4</text>
<text x="154.7" y="600.5">MRPL17</text>
<text x="243.8" y="606.1">MRPL2</text>
<text x="132.3" y="623.6">MRPL13</text>
<text x="189.4" y="620.1">MRPL33</text>
<text x="289.8" y="623.7">MRPL3</text>
<text x="84.8" y="628.8">MRPS23</text>
<text x="241.5" y="636.5">MRPL37</text>
<text x="137.4" y="648.6">MRPL49</text>
<text x="192.3" y="650.9">MRPL28</text>
<text x="74.6" y="659.7">MRPS34</text>
<text x="262.2" y="664.7">MRPL19</text>
<text x="109.3" y="677.2">MRPL9</text>
<text x="167.3" y="682.2">MRPL47</text>
<text x="222.0" y="679.1">MRPL40</text>
</g>
<g stroke="#878787" stroke-width="1.4" fill="none">
<path d="M413.6 555.5L455.3 548.2M413.6 555.5L366.0 581.8M413.6 555.5L476.8 577.2M413.6 555.5L423.1 589.2M413.6 555.5L495.6 605.2M413.6 555.5L376.2 613.8M413.6 555.5L441.7 613.8M413.6 555.5L484.0 631.7M413.6 555.5L405.8 639.6M413.6 555.5L454.8 651.4M455.3 548.2L366.0 581.8M455.3 548.2L476.8 577.2M455.3 548.2L423.1 589.2M455.3 548.2L495.6 605.2M455.3 548.2L376.2 613.8M455.3 548.2L441.7 613.8M455.3 548.2L484.0 631.7M455.3 548.2L405.8 639.6M455.3 548.2L454.8 651.4M366.0 581.8L476.8 577.2M366.0 581.8L423.1 589.2M366.0 581.8L495.6 605.2M366.0 581.8L376.2 613.8M366.0 581.8L441.7 613.8M366.0 581.8L484.0 631.7M366.0 581.8L405.8 639.6M366.0 581.8L454.8 651.4M476.8 577.2L423.1 589.2M476.8 577.2L495.6 605.2M476.8 577.2L376.2 613.8M476.8 577.2L441.7 613.8M476.8 577.2L484.0 631.7M476.8 577.2L405.8 639.6M476.8 577.2L454.8 651.4M423.1 589.2L495.6 605.2M423.1 589.2L376.2 613.8M423.1 589.2L441.7 613.8M423.1 589.2L484.0 631.7M423.1 589.2L405.8 639.6M423.1 589.2L454.8 651.4M495.6 605.2L376.2 613.8M495.6 605.2L441.7 613.8M495.6 605.2L484.0 631.7M495.6 605.2L405.8 639.6M495.6 605.2L454.8 651.4M376.2 613.8L441.7 613.8M376.2 613.8L484.0 631.7M376.2 613.8L405.8 639.6M376.2 613.8L454.8 651.4M441.7 613.8L484.0 631.7M441.7 613.8L405.8 639.6M441.7 613.8L454.8 651.4M484.0 631.7L405.8 639.6M484.0 631.7L454.8 651.4M405.8 639.6L454.8 651.4"/>
</g>
<g>
<polygon points="404.6,546.0 422.6,546.0 434.6,551.5 434.6,559.5 422.6,565.0 404.6,565.0 392.6,559.5 392.6,551.5" fill="#9796D4"/>
<polygon points="446.3,538.7 464.3,538.7 476.3,544.2 476.3,552.2 464.3,557.7 446.3,557.7 434.3,552.2 434.3,544.2" fill="#9796D4"/>
<polygon points="357.0,572.3 375.0,572.3 387.0,577.8 387.0,585.8 375.0,591.3 357.0,591.3 345.0,585.8 345.0,577.8" fill="#9796D4"/>
<polygon points="467.8,567.7 485.8,567.7 497.8,573.2 497.8,581.2 485.8,586.7 467.8,586.7 455.8,581.2 455.8,573.2" fill="#9796D4"/>
<polygon points="414.1,579.7 432.1,579.7 444.1,585.2 444.1,593.2 432.1,598.7 414.1,598.7 402.1,593.2 402.1,585.2" fill="#9796D4"/>
<polygon points="486.6,595.7 504.6,595.7 516.6,601.2 516.6,609.2 504.6,614.7 486.6,614.7 474.6,609.2 474.6,601.2" fill="#9796D4"/>
<polygon points="367.2,604.3 385.2,604.3 397.2,609.8 397.2,617.8 385.2,623.3 367.2,623.3 355.2,617.8 355.2,609.8" fill="#9796D4"/>
<polygon points="432.7,604.3 450.7,604.3 462.7,609.8 462.7,617.8 450.7,623.3 432.7,623.3 420.7,617.8 420.7,609.8" fill="#9796D4"/>
<polygon points="475.0,622.2 493.0,622.2 505.0,627.7 505.0,635.7 493.0,641.2 475.0,641.2 463.0,635.7 463.0,627.7" fill="#9796D4"/>
<polygon points="396.8,630.1 414.8,630.1 426.8,635.6 426.8,643.6 414.8,649.1 396.8,649.1 384.8,643.6 384.8,635.6" fill="#9796D4"/>
<polygon points="445.8,641.9 463.8,641.9 475.8,647.4 475.8,655.4 463.8,660.9 445.8,660.9 433.8,655.4 433.8,647.4" fill="#9796D4"/>
</g>
<g font-family="'Liberation Sans', sans-serif" font-size="9.1" text-anchor="middle" fill="#160c3a" stroke="#160c3a" stroke-width="0.35" letter-spacing="0.1">
<text x="413.7" y="558.8">ATP5D</text>
<text x="455.4" y="551.5">ATP5F1</text>
<text x="366.1" y="585.1">ATP5B</text>
<text x="476.9" y="580.5">ATP5O</text>
<text x="423.2" y="592.5">ATP5I</text>
<text x="495.7" y="608.5">ATP5H</text>
<text x="376.2" y="617.1">ATP5A1</text>
<text x="441.8" y="617.1">ATP5J</text>
<text x="484.1" y="635.0">USMG5</text>
<text x="405.9" y="642.9">ATP5C1</text>
<text x="454.9" y="654.7">MT-ATP8</text>
</g>
<g stroke="#878787" stroke-width="1.4" fill="none">
<path d="M423.0 712.0L461.0 725.2M423.0 712.0L380.2 741.8M423.0 712.0L465.4 756.0M423.0 712.0L410.2 775.6M423.0 712.0L452.3 789.1M461.0 725.2L380.2 741.8M461.0 725.2L465.4 756.0M461.0 725.2L410.2 775.6M461.0 725.2L452.3 789.1M380.2 741.8L465.4 756.0M380.2 741.8L410.2 775.6M380.2 741.8L452.3 789.1M465.4 756.0L410.2 775.6M465.4 756.0L452.3 789.1M410.2 775.6L452.3 789.1M357.0 712.8L380.2 741.8M380.2 741.8L365.0 780.0M365.0 780.0L410.2 775.6"/>
</g>
<g>
<polygon points="348.0,703.5 366.0,703.5 378.0,708.9 378.0,716.7 366.0,722.0 348.0,722.0 336.0,716.7 336.0,708.9" fill="#9796D4"/>
<polygon points="414.0,702.8 432.0,702.8 444.0,708.1 444.0,715.9 432.0,721.2 414.0,721.2 402.0,715.9 402.0,708.1" fill="#9796D4"/>
<polygon points="452.0,716.0 470.0,716.0 482.0,721.3 482.0,729.1 470.0,734.5 452.0,734.5 440.0,729.1 440.0,721.3" fill="#9796D4"/>
<polygon points="371.2,732.5 389.2,732.5 401.2,737.9 401.2,745.7 389.2,751.0 371.2,751.0 359.2,745.7 359.2,737.9" fill="#9796D4"/>
<polygon points="456.4,746.8 474.4,746.8 486.4,752.1 486.4,759.9 474.4,765.2 456.4,765.2 444.4,759.9 444.4,752.1" fill="#9796D4"/>
<polygon points="401.2,766.4 419.2,766.4 431.2,771.7 431.2,779.5 419.2,784.9 401.2,784.9 389.2,779.5 389.2,771.7" fill="#9796D4"/>
<polygon points="356.0,770.8 374.0,770.8 386.0,776.1 386.0,783.9 374.0,789.2 356.0,789.2 344.0,783.9 344.0,776.1" fill="#9796D4"/>
<polygon points="443.3,779.9 461.3,779.9 473.3,785.2 473.3,793.0 461.3,798.4 443.3,798.4 431.3,793.0 431.3,785.2" fill="#9796D4"/>
</g>
<g font-family="'Liberation Sans', sans-serif" font-size="8.3" text-anchor="middle" fill="#160c3a" stroke="#160c3a" stroke-width="0.32" letter-spacing="0.15">
<text x="357.1" y="715.8">COX15</text>
<text x="423.1" y="715.0">NDUFB3</text>
<text x="461.1" y="728.2">NDUFS7</text>
<text x="380.3" y="744.8">UQCRC2</text>
<text x="465.5" y="759.0">NDUFC2</text>
<text x="410.3" y="778.6">UQCRQ</text>
<text x="365.1" y="783.0">COX5B</text>
<text x="452.4" y="792.1">NDUFV2</text>
</g>
<g stroke="#808080" stroke-width="1.2" fill="none">
<path d="M252.1 730.9L303.1 730.9M252.1 730.9L218.8 749.3M252.1 730.9L277.7 750.3M252.1 730.9L251.6 766.3M303.1 730.9L277.7 750.3M218.8 749.3L277.7 750.3M218.8 749.3L251.6 766.3M218.8 749.3L218.3 774.5M277.7 750.3L251.6 766.3M218.3 774.5L251.6 766.3M218.3 774.5L181.6 790.8"/>
</g>
<g>
<polygon points="245.0,723.9 259.2,723.9 268.6,728.0 268.6,733.8 259.2,737.9 245.0,737.9 235.6,733.8 235.6,728.0" fill="#9796D4"/>
<polygon points="296.0,723.9 310.2,723.9 319.6,728.0 319.6,733.8 310.2,737.9 296.0,737.9 286.6,733.8 286.6,728.0" fill="#9796D4"/>
<polygon points="211.7,742.3 225.9,742.3 235.3,746.4 235.3,752.2 225.9,756.3 211.7,756.3 202.3,752.2 202.3,746.4" fill="#9796D4"/>
<polygon points="270.6,743.3 284.8,743.3 294.2,747.4 294.2,753.2 284.8,757.3 270.6,757.3 261.2,753.2 261.2,747.4" fill="#9796D4"/>
<polygon points="244.5,759.3 258.7,759.3 268.1,763.4 268.1,769.2 258.7,773.3 244.5,773.3 235.1,769.2 235.1,763.4" fill="#9796D4"/>
<polygon points="211.2,767.5 225.4,767.5 234.8,771.6 234.8,777.4 225.4,781.5 211.2,781.5 201.8,777.4 201.8,771.6" fill="#9796D4"/>
<polygon points="174.5,783.8 188.7,783.8 198.1,787.9 198.1,793.7 188.7,797.8 174.5,797.8 165.1,793.7 165.1,787.9" fill="#9796D4"/>
</g>
<g font-family="'Liberation Sans', sans-serif" font-size="6.3" text-anchor="middle" fill="#160c3a" stroke="#160c3a" stroke-width="0.19" letter-spacing="0.2">
<text x="252.2" y="733.2">SSRP1</text>
<text x="303.2" y="733.2">CHD1</text>
<text x="218.9" y="751.6">CTR9</text>
<text x="277.8" y="752.6">RTF1</text>
<text x="251.7" y="768.6">CDC73</text>
<text x="218.4" y="776.8">CCNK</text>
<text x="181.7" y="793.1">CDK13</text>
</g>
</svg>
</body></html>
